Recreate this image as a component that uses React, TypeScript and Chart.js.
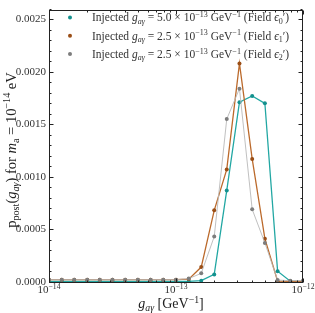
import React, { useEffect, useRef } from 'react';
import { Chart, registerables } from 'chart.js';

Chart.register(...registerables);

// axion-photon coupling grid [GeV^-1]
const couplings = [
  1.0e-14, 1.26e-14, 1.58e-14, 2.0e-14, 2.51e-14, 3.16e-14, 3.98e-14, 5.01e-14, 6.31e-14, 7.94e-14,
  1.0e-13, 1.26e-13, 1.58e-13, 2.0e-13, 2.51e-13, 3.16e-13, 3.98e-13, 5.01e-13, 6.31e-13, 7.94e-13,
  1.0e-12,
];
// posterior values
const postField0 = [
  0.000003, 0.000003, 0.000003, 0.000003, 0.000003, 0.000003, 0.000003, 0.000003, 0.000003, 0.000003,
  0.000003, 0.000003, 0.00001, 0.00007, 0.00087, 0.00171, 0.00177, 0.0017, 0.0001, 0.000005,
  0.000003,
];
const postField1 = [
  0.00002, 0.00002, 0.00002, 0.00002, 0.00002, 0.00002, 0.00002, 0.00002, 0.00002, 0.00002,
  0.00002, 0.000025, 0.00014, 0.00068, 0.00107, 0.00208, 0.00117, 0.00041, 0.000005, 0.000004,
  0.000004,
];
const postField2 = [
  0.00002, 0.00002, 0.00002, 0.00002, 0.00002, 0.00002, 0.00002, 0.00002, 0.00002, 0.00002,
  0.00002, 0.00003, 0.00008, 0.00043, 0.00155, 0.00184, 0.00069, 0.00037, 0.000016, 0.00001,
  0.00001,
];
const yTickValues = [0, 0.0005, 0.001, 0.0015, 0.002, 0.0025];
const xTickExponents = [-14, -13, -12];
const legendInjected = ['5.0', '2.5', '2.5'];
const legendFields = ['0', '1', '2'];

const FONT = '"Liberation Serif", "DejaVu Serif", serif';
const lineColors = ['#22a7a3', '#bb6a2c', '#b9b9b9'];
const markerColors = ['#13918e', '#9a4e16', '#7d7d7d'];

type Seg = { t: string; it?: boolean; pos?: 'sub' | 'sup' };

function segFont(base: number, s: Seg) {
  const size = s.pos ? base * 0.7 : base;
  return `${s.it ? 'italic ' : ''}${size}px ${FONT}`;
}
function measureRich(ctx: CanvasRenderingContext2D, segs: Seg[], base: number) {
  let w = 0;
  for (const s of segs) {
    ctx.font = segFont(base, s);
    w += ctx.measureText(s.t).width;
  }
  return w;
}
function drawRich(
  ctx: CanvasRenderingContext2D,
  segs: Seg[],
  x: number,
  y: number,
  base: number,
  align: 'left' | 'center' | 'right',
  color: string,
) {
  const w = measureRich(ctx, segs, base);
  let cx = align === 'center' ? x - w / 2 : align === 'right' ? x - w : x;
  ctx.textAlign = 'left';
  ctx.textBaseline = 'alphabetic';
  ctx.fillStyle = color;
  for (const s of segs) {
    ctx.font = segFont(base, s);
    const dy = s.pos === 'sub' ? base * 0.22 : s.pos === 'sup' ? -base * 0.38 : 0;
    ctx.fillText(s.t, cx, y + dy);
    cx += ctx.measureText(s.t).width;
  }
}

const decorPlugin = {
  id: 'decor',
  afterDraw(chart: any) {
    const ctx: CanvasRenderingContext2D = chart.ctx;
    const { left, right, top, bottom } = chart.chartArea;
    const xs = chart.scales.x;
    const ys = chart.scales.y;
    ctx.save();
    // frame
    ctx.strokeStyle = '#222';
    ctx.lineWidth = 1;
    const L = Math.round(left) + 0.5;
    const R = Math.round(right) - 0.5;
    const T = Math.round(top) + 0.5;
    const B = Math.round(bottom) - 0.5;
    ctx.strokeRect(L, T, R - L, B - T);
    // ticks (inward, all sides)
    ctx.beginPath();
    const yTick = (v: number, len: number) => {
      const p = Math.round(ys.getPixelForValue(v)) + 0.5;
      ctx.moveTo(L, p); ctx.lineTo(L + len, p);
      ctx.moveTo(R, p); ctx.lineTo(R - len, p);
    };
    const xTick = (v: number, len: number) => {
      const p = Math.round(xs.getPixelForValue(v)) + 0.5;
      ctx.moveTo(p, B); ctx.lineTo(p, B - len);
      ctx.moveTo(p, T); ctx.lineTo(p, T + len);
    };
    for (let i = 0; i <= 26; i++) {
      const v = i * 0.0001;
      const major = i % 5 === 0;
      yTick(v, major ? 4 : 2);
    }
    for (let e = -14; e <= -12; e++) {
      xTick(Math.pow(10, e), 4);
      if (e < -12) for (let m = 2; m <= 9; m++) xTick(m * Math.pow(10, e), 2);
    }
    ctx.stroke();

    // x tick labels
    for (const e of xTickExponents) {
      const px = xs.getPixelForValue(Math.pow(10, e));
      drawRich(ctx, [{ t: '10' }, { t: '\u2212' + String(-e), pos: 'sup' }], px, 293, 11, 'center', '#333');
    }
    // x title
    drawRich(
      ctx,
      [{ t: 'g', it: true }, { t: 'a\u03b3', it: true, pos: 'sub' }, { t: ' [GeV' }, { t: '\u22121', pos: 'sup' }, { t: ']' }],
      (left + right) / 2 - 5,
      308,
      14,
      'center',
      '#222',
    );
    // y title
    ctx.save();
    ctx.translate(15.5, 150);
    ctx.rotate(-Math.PI / 2);
    drawRich(
      ctx,
      [
        { t: 'p' }, { t: 'post', pos: 'sub' }, { t: '(' }, { t: 'g', it: true }, { t: 'a\u03b3', it: true, pos: 'sub' },
        { t: ') for ' }, { t: 'm', it: true }, { t: 'a', pos: 'sub' }, { t: ' = 10' }, { t: '\u221214', pos: 'sup' }, { t: ' eV' },
      ],
      0,
      0,
      14.5,
      'center',
      '#222',
    );
    ctx.restore();

    // legend
    for (let i = 0; i < 3; i++) {
      const cy = 17.5 + i * 18.3;
      ctx.fillStyle = markerColors[i];
      ctx.beginPath();
      ctx.arc(70, cy, 2, 0, Math.PI * 2);
      ctx.fill();
      drawRich(
        ctx,
        [
          { t: 'Injected ' }, { t: 'g', it: true }, { t: 'a\u03b3', it: true, pos: 'sub' },
          { t: ' = ' + legendInjected[i] + ' \u00d7 10' }, { t: '\u221213', pos: 'sup' }, { t: ' GeV' }, { t: '\u22121', pos: 'sup' },
          { t: ' (Field ' }, { t: '\u03f5', it: true }, { t: legendFields[i], pos: 'sub' }, { t: '\u2032)' },
        ],
        92,
        cy + 3.8,
        11.5,
        'left',
        '#333',
      );
    }
    ctx.restore();
  },
};

export default function App() {
  const ref = useRef<HTMLCanvasElement | null>(null);
  useEffect(() => {
    if (!ref.current) return;
    const series = [postField0, postField1, postField2];
    const chart = new Chart(ref.current, {
      type: 'line',
      data: {
        datasets: series.map((vals, i) => ({
          label: `Field ${i}`,
          data: couplings.map((g, k) => ({ x: g, y: vals[k] })),
          borderColor: lineColors[i],
          borderWidth: i === 2 ? 0.9 : 1.3,
          pointRadius: 2,
          pointBorderWidth: 0,
          pointBackgroundColor: markerColors[i],
          pointBorderColor: markerColors[i],
          tension: 0,
          order: 3 - i,
        })),
      },
      options: {
        responsive: false,
        animation: false,
        events: [],
        layout: { padding: { left: 0, right: 12, top: 1, bottom: 0 } },
        plugins: { legend: { display: false }, tooltip: { enabled: false } },
        scales: {
          x: {
            type: 'logarithmic',
            min: 1e-14,
            max: 1e-12,
            grid: { display: false, drawTicks: false },
            border: { display: false },
            ticks: { display: false },
            afterFit: (s: any) => { s.height = 30; },
          },
          y: {
            type: 'linear',
            min: -0.000012,
            max: 0.002593,
            grid: { display: false, drawTicks: false },
            border: { display: false },
            afterBuildTicks: (s: any) => { s.ticks = yTickValues.map((v) => ({ value: v })); },
            ticks: {
              padding: 3,
              color: '#333',
              font: { family: FONT, size: 11 },
              callback: (v: any) => Number(v).toFixed(4),
            },
            afterFit: (s: any) => { s.width = 49; },
          },
        },
      },
      plugins: [decorPlugin],
    });
    return () => chart.destroy();
  }, []);
  return (
    <div style={{ position: 'absolute', left: 0, top: 0, width: 315, height: 313, background: '#fff' }}>
      <canvas ref={ref} width={315} height={313} style={{ display: 'block' }} />
    </div>
  );
}
